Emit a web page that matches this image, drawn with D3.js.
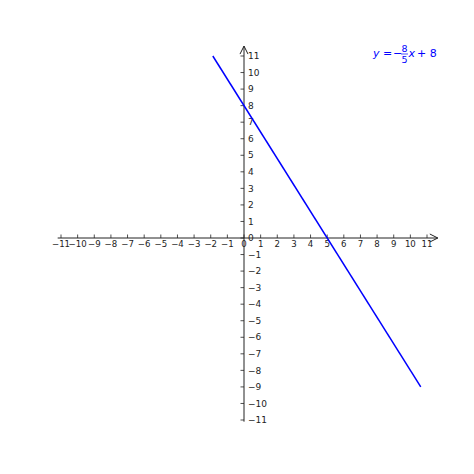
<!DOCTYPE html>
<html>
<head>
<meta charset="utf-8">
<script src="https://cdn.jsdelivr.net/npm/d3@7"></script>
<style>
  body { margin: 0; background: #fff; }
  text { font-family: "DejaVu Sans", sans-serif; }
</style>
</head>
<body>
<div id="chart"></div>
<script>
(function () {
    "use strict";

    // data
    var xTicks = [-11, -10, -9, -8, -7, -6, -5, -4, -3, -2, -1, 0, 1, 2, 3, 4, 5, 6, 7, 8, 9, 10, 11];
    var yTicks = [-11, -10, -9, -8, -7, -6, -5, -4, -3, -2, -1, 0, 1, 2, 3, 4, 5, 6, 7, 8, 9, 10, 11];
    var lineX = [-1.875, 10.625];
    var lineY = [11, -9];

    var width = 474, height = 474;

    var svg = d3.select("#chart")
        .append("svg")
        .attr("width", width)
        .attr("height", height);

    var x = d3.scaleLinear().domain([-11, 11]).range([61, 427]);
    var y = d3.scaleLinear().domain([-11, 11]).range([420, 56]);

    var axisColor = "#222";

    // x axis line + arrow
    svg.append("line")
        .attr("x1", x(-11.2)).attr("x2", x(11.65))
        .attr("y1", y(0)).attr("y2", y(0))
        .attr("stroke", axisColor).attr("stroke-width", 1);
    svg.append("path")
        .attr("d", "M" + (x(11.65) - 8) + "," + (y(0) - 4) + "L" + x(11.65) + "," + y(0) + "L" + (x(11.65) - 8) + "," + (y(0) + 4))
        .attr("fill", "none").attr("stroke", axisColor).attr("stroke-width", 1);

    // y axis line + arrow
    svg.append("line")
        .attr("x1", x(0)).attr("x2", x(0))
        .attr("y1", y(-11.1)).attr("y2", y(11.6))
        .attr("stroke", axisColor).attr("stroke-width", 1);
    svg.append("path")
        .attr("d", "M" + (x(0) - 4) + "," + (y(11.6) + 8) + "L" + x(0) + "," + y(11.6) + "L" + (x(0) + 4) + "," + (y(11.6) + 8))
        .attr("fill", "none").attr("stroke", axisColor).attr("stroke-width", 1);

    // x ticks (point up) and labels
    var xt = svg.selectAll("g.xtick")
        .data(xTicks)
        .enter()
        .append("g")
        .attr("transform", function (d) { return "translate(" + x(d) + "," + y(0) + ")"; });
    xt.append("line")
        .attr("y1", 0).attr("y2", -3.5)
        .attr("stroke", axisColor).attr("stroke-width", 0.8);
    xt.append("text")
        .attr("y", 9)
        .attr("text-anchor", "middle")
        .style("font-size", "8.6px")
        .attr("fill", "#222")
        .text(function (d) { return d < 0 ? "\u2212" + (-d) : d; });

    // y ticks (point left) and labels
    var yt = svg.selectAll("g.ytick")
        .data(yTicks)
        .enter()
        .append("g")
        .attr("transform", function (d) { return "translate(" + x(0) + "," + y(d) + ")"; });
    yt.append("line")
        .attr("x1", 0).attr("x2", -3.5)
        .attr("stroke", axisColor).attr("stroke-width", 0.8);
    yt.append("text")
        .attr("x", 4)
        .attr("dy", "0.35em")
        .attr("text-anchor", "start")
        .style("font-size", "9px")
        .attr("fill", "#222")
        .text(function (d) { return d < 0 ? "\u2212" + (-d) : d; });

    // the line
    var pts = lineX.map(function (d, i) { return [d, lineY[i]]; });
    var line = d3.line()
        .x(function (d) { return x(d[0]); })
        .y(function (d) { return y(d[1]); });
    svg.append("path")
        .attr("d", line(pts))
        .attr("stroke", "blue")
        .attr("stroke-width", 1.5)
        .attr("fill", "none");

    // equation label
    var eq = svg.append("g").attr("fill", "blue").style("font-size", "11px");
    eq.append("text").attr("x", 373).attr("y", 57)
        .style("font-style", "italic").text("y");
    eq.append("text").attr("x", 383).attr("y", 57).text("=");
    eq.append("text").attr("x", 393).attr("y", 57).text("\u2212");
    eq.append("text").attr("x", 404.5).attr("y", 52).attr("text-anchor", "middle")
        .style("font-size", "9.5px").text("8");
    eq.append("line").attr("x1", 401).attr("x2", 408).attr("y1", 54).attr("y2", 54)
        .attr("stroke", "blue").attr("stroke-width", 0.7);
    eq.append("text").attr("x", 404.5).attr("y", 63).attr("text-anchor", "middle")
        .style("font-size", "9.5px").text("5");
    eq.append("text").attr("x", 408.5).attr("y", 57)
        .style("font-style", "italic").text("x");
    eq.append("text").attr("x", 417).attr("y", 57).text("+ 8");
})();
</script>
</body>
</html>
